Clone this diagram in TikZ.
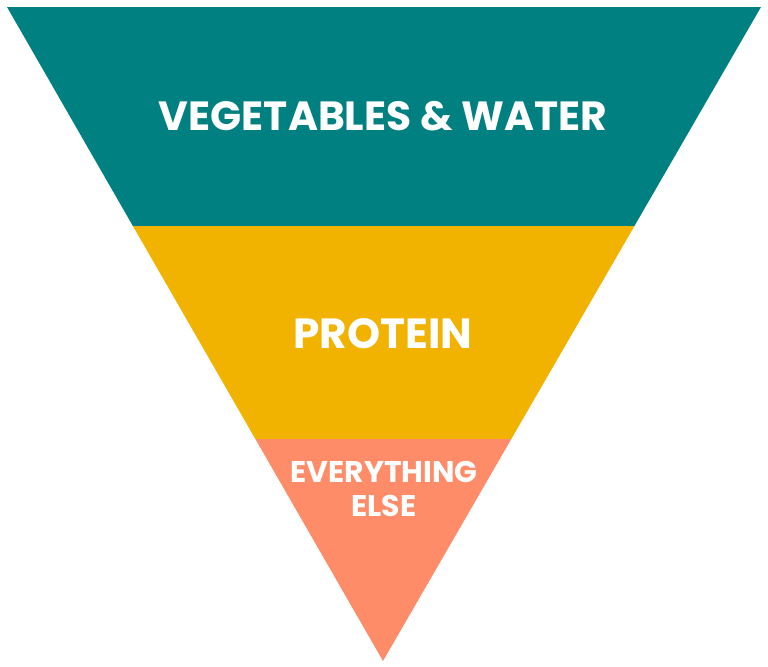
\documentclass[tikz,border=0pt]{standalone}
\usepackage{fontspec, tkz-euclide}
\newfontfamily\bandfont{Poppins}
\definecolor{vegteal}{RGB}{0,128,128}
\definecolor{protyellow}{RGB}{242,178,0}
\definecolor{elsesalmon}{RGB}{255,140,105}
\tikzset{bandtext/.style={text=white, align=center, inner sep=0pt}}

\begin{document}
\begin{tikzpicture}
    \useasboundingbox (0,0) rectangle (7.68,6.66);
    \tkzDefPoints{0.07/6.59/L, 7.61/6.59/R, 3.83/0.05/V, 0/4.40/a, 1/4.40/b, 0/2.27/c, 1/2.27/d}
    \tkzInterLL(L,V)(a,b)    \tkzGetPoint{P}
    \tkzInterLL(R,V)(a,b)    \tkzGetPoint{Q}
    \tkzInterLL(L,V)(c,d)    \tkzGetPoint{S}
    \tkzInterLL(R,V)(c,d)    \tkzGetPoint{T}
    \fill[vegteal] (L) -- (R) -- (Q) -- (P) -- cycle;
    \fill[protyellow] (P) -- (Q) -- (T) -- (S) -- cycle;
    \fill[elsesalmon] (S) -- (T) -- (V) -- cycle;
    \node[bandtext, font=\bandfont\bfseries\fontsize{11.6}{14}\selectfont] (veg) at (3.83,5.50) {VEGETABLES \& WATER};
    \node[bandtext, font=\bandfont\bfseries\fontsize{12}{14}\selectfont] (prot) at (3.83,3.32) {PROTEIN};
    \node[bandtext, font=\bandfont\bfseries\fontsize{8.5}{9.6}\selectfont] (else) at (3.84,1.77) {EVERYTHING\\ELSE};
\end{tikzpicture}
\end{document}
